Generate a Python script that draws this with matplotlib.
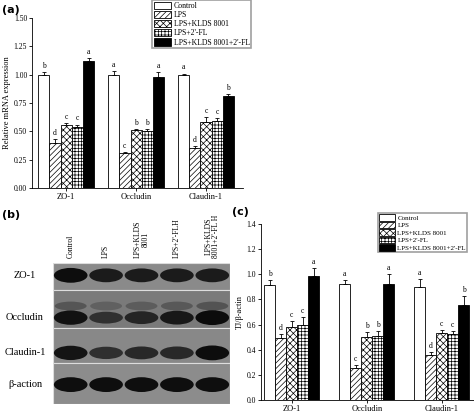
import matplotlib
matplotlib.use("Agg")
import matplotlib.pyplot as plt
from matplotlib.patches import Ellipse, Rectangle
import numpy as np

plt.rcParams["font.family"] = ["Liberation Serif", "DejaVu Serif"]
plt.rcParams["hatch.linewidth"] = 0.5

GROUPS = ["ZO-1", "Occludin", "Claudin-1"]
SERIES = ["Control", "LPS", "LPS+KLDS 8001", "LPS+2'-FL", "LPS+KLDS 8001+2'-FL"]
HATCHES = ["", "//////", "xxxxx", "+++++", ""]
FACES = ["white", "white", "white", "white", "black"]

# panel (a): relative mRNA expression, rows = series, cols = groups
mrna = [[1.00, 1.00, 1.00], [0.40, 0.31, 0.35], [0.56, 0.51, 0.58],
        [0.54, 0.50, 0.59], [1.12, 0.98, 0.81]]
mrna_err = [[0.02, 0.03, 0.01], [0.03, 0.01, 0.02], [0.01, 0.01, 0.05],
            [0.02, 0.02, 0.03], [0.03, 0.04, 0.02]]
mrna_letters = [["b", "a", "a"], ["d", "c", "d"], ["c", "b", "c"],
                ["c", "b", "c"], ["a", "a", "b"]]

# panel (c): TJ / beta-actin
prot = [[0.915, 0.925, 0.895], [0.495, 0.255, 0.36], [0.58, 0.50, 0.535],
        [0.60, 0.51, 0.525], [0.99, 0.92, 0.755]]
prot_err = [[0.04, 0.03, 0.07], [0.03, 0.02, 0.02], [0.05, 0.04, 0.02],
            [0.06, 0.04, 0.02], [0.06, 0.08, 0.07]]
prot_letters = mrna_letters

# panel (b): blot lanes/rows and rough band intensities (0..1)
LANES = ["Control", "LPS", "LPS+KLDS\n8001", "LPS+2'-FLH", "LPS+KLDS\n8001+2'-FL H"]
ROWS = ["ZO-1", "Occludin", "Claudin-1", "β-action"]
band_strength = [[0.9, 0.8, 0.8, 0.8, 0.8], [0.85, 0.6, 0.7, 0.8, 0.9],
                 [0.85, 0.65, 0.7, 0.7, 0.9], [0.9, 0.9, 0.9, 0.9, 0.9]]

W, H = 474, 413
fig = plt.figure(figsize=(W / 100, H / 100), dpi=100)


def ax_px(x0, y0, x1, y1):
    return fig.add_axes([x0 / W, 1 - y1 / H, (x1 - x0) / W, (y1 - y0) / H])


def bars(ax, vals, errs, letters, width, xlim, ylim, yticks, fmt, ylabel, legend_box, legfs):
    x = np.arange(len(GROUPS))
    for i in range(len(SERIES)):
        pos = x + (i - 2) * width
        ax.bar(pos, vals[i], width, facecolor=FACES[i], edgecolor="black",
               hatch=HATCHES[i], linewidth=0.6, label=SERIES[i])
        ax.errorbar(pos, vals[i], yerr=[np.zeros(3), errs[i]], fmt="none",
                    ecolor="black", elinewidth=0.6, capsize=1.5, capthick=0.6)
        for p, v, e, l in zip(pos, vals[i], errs[i], letters[i]):
            ax.text(p, v + e + 0.012 * (ylim[1] - ylim[0]), l, ha="center",
                    va="bottom", fontsize=5.5)
    ax.set_xlim(*xlim)
    ax.set_ylim(*ylim)
    ax.set_xticks(x)
    ax.set_xticklabels(GROUPS, fontsize=6)
    ax.set_yticks(yticks)
    ax.set_yticklabels([fmt.format(t) for t in yticks], fontsize=5.5)
    ax.set_ylabel(ylabel, fontsize=6, labelpad=2)
    ax.tick_params(length=2, width=0.6, pad=1.5)
    for s in ["top", "right"]:
        ax.spines[s].set_visible(False)
    for s in ["left", "bottom"]:
        ax.spines[s].set_linewidth(0.6)
    leg = ax.legend(loc="upper left", bbox_to_anchor=legend_box, bbox_transform=fig.transFigure,
                    fontsize=legfs, frameon=True, fancybox=False, edgecolor="#888888",
                    handlelength=2.3, handleheight=1.1, borderpad=0.2, labelspacing=0.1,
                    handletextpad=0.3, borderaxespad=0)
    leg.get_frame().set_linewidth(1.2)


ax_a = ax_px(32, 18, 243, 188)
bars(ax_a, mrna, mrna_err, mrna_letters, 0.16, (-0.49, 2.53), (0, 1.5),
     [0, 0.25, 0.5, 0.75, 1.0, 1.25, 1.5], "{:.2f}", "Relative mRNA expression",
     (152 / W, 1 - 0 / H), 5.6)
fig.text(2 / W, 1 - 10 / H, "(a)", fontsize=8, fontweight="bold", family="DejaVu Sans", va="center")

ax_c = ax_px(261, 224, 474, 400)
bars(ax_c, prot, prot_err, prot_letters, 0.147, (-0.41, 2.43), (0, 1.4),
     [0, 0.2, 0.4, 0.6, 0.8, 1.0, 1.2, 1.4], "{:.1f}", "TJ/β-actin",
     (378 / W, 1 - 213 / H), 5.0)
fig.text(232 / W, 1 - 212 / H, "(c)", fontsize=8, fontweight="bold", family="DejaVu Sans", va="center")

# panel (b): western blot sketch
fig.text(2 / W, 1 - 215 / H, "(b)", fontsize=8, fontweight="bold", family="DejaVu Sans", va="center")
ax_b = ax_px(53, 263, 230, 404)
ax_b.set_xlim(0, 5)
ax_b.set_ylim(4, 0)
ax_b.axis("off")
row_edges = [0, 0.78, 1.85, 2.85, 4.0]
row_bg = ["#8a8a8a", "#7a7a7a", "#888888", "#8c8c8c"]
band_y = [0.35, 1.55, 2.55, 3.45]
for r in range(4):
    ax_b.add_patch(Rectangle((0, row_edges[r]), 5, row_edges[r + 1] - row_edges[r],
                             facecolor=row_bg[r], edgecolor="#dddddd", linewidth=0.8))
    for j in range(5):
        s = band_strength[r][j]
        ax_b.add_patch(Ellipse((j + 0.5, band_y[r]), 0.95, 0.28 * (0.6 + s),
                               facecolor="black", alpha=s, linewidth=0))
        if r == 1:
            ax_b.add_patch(Ellipse((j + 0.5, 1.22), 0.9, 0.25, facecolor="black",
                                   alpha=0.35 * s, linewidth=0))
for r, name in enumerate(ROWS):
    fig.text(25 / W, 1 - (263 + (band_y[r] / 4) * 141) / H, name, fontsize=7.5,
             ha="center", va="center")
for j, name in enumerate(LANES):
    fig.text((53 + (j + 0.5) * 35.4) / W, 1 - 258 / H, name, rotation=90, fontsize=5.5,
             ha="center", va="bottom", linespacing=1.0)

fig.savefig("out.png", dpi=100)
